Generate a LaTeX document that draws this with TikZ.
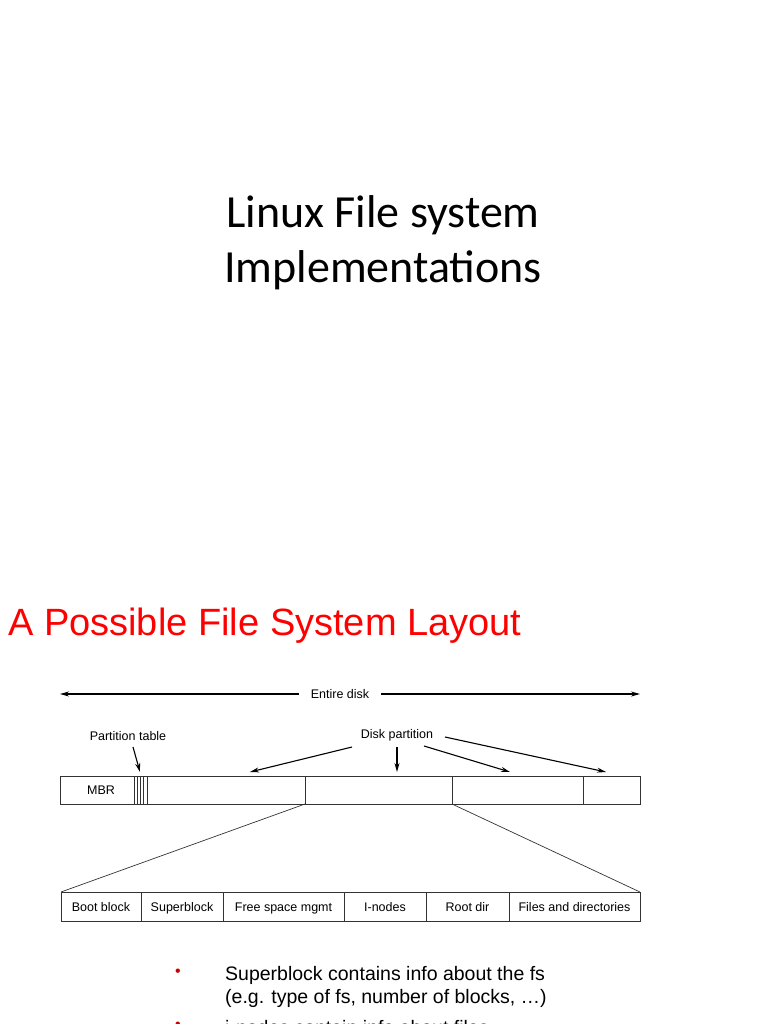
\documentclass[tikz,border=0pt]{standalone}
\usepackage{fontspec}
\setmainfont{Liberation Sans}
\newfontfamily\calib{Carlito}
\usetikzlibrary{arrows.meta}
\begin{document}
\begin{tikzpicture}[x=1pt,y=-1pt,
  lbl/.style={font=\fontsize{12.5}{14}\selectfont},
  blk/.style={font=\fontsize{12.5}{14}\selectfont,anchor=base},
  arr/.style={-{Stealth[length=9pt,width=5pt]},line width=1.1pt},
  thin/.style={line width=0.7pt,draw=black!80},
  btxt/.style={anchor=west,inner sep=0pt,font=\fontsize{19.5}{22}\selectfont}]
\useasboundingbox (0,0) rectangle (768,1024);
\clip (0,0) rectangle (768,1024);
\node (t1) at (383,215) {\calib\fontsize{46}{50}\selectfont Linux File system};
\node (t2) at (383,270) {\calib\fontsize{46}{50}\selectfont Implementations};
\node[anchor=west,text=red,inner sep=0pt] (h) at (8,626) {\fontsize{38}{42}\selectfont A Possible File System Layout};
% entire disk
\node[lbl,fill=white,inner xsep=12pt] (ed) at (340,694) {Entire disk};
\coordinate (edl) at (60,694); \coordinate (edr) at (640,694);
\draw[arr] (ed.west) -- (edl);
\draw[arr] (ed.east) -- (edr);
% top bar
\draw[thin] (60,776) rectangle (640,804);
\node[lbl] (mbr) at (101,790) {MBR};
\foreach \x in {134,137,140,143,147} \draw[thin] (\x,776) -- (\x,804);
\foreach \x in {305,452,583} \draw[thin] (\x,776) -- (\x,804);
\node[lbl] (pt) at (128,736) {Partition table};
\coordinate (pta) at (140,772);
\draw[arr] (133,747) -- (pta);
\node[lbl] (dp) at (397,735) {Disk partition};
\coordinate (a1) at (250,772); \coordinate (a2) at (397,772);
\coordinate (a3) at (510,772); \coordinate (a4) at (606,772);
\draw[arr] (352,747) -- (a1);
\draw[arr] (397,747) -- (a2);
\draw[arr] (424,746) -- (a3);
\draw[arr] (445,737) -- (a4);
% bottom bar
\draw[thin] (305,804) -- (61,892);
\draw[thin] (452,804) -- (640,892);
\draw[thin] (61,892) rectangle (640,921);
\foreach \x in {141,223,344,426,509} \draw[thin] (\x,892) -- (\x,921);
\foreach \a/\b/\t in {61/141/Boot block,141/223/Superblock,223/344/Free space mgmt,344/426/I-nodes,426/509/Root dir,509/640/Files and directories}
  \node[blk] at ({(\a+\b)/2},911) {\t};
% bullets
\node[text=red!80!black,font=\fontsize{16}{18}\selectfont] (b1) at (178,973) {•};
\node[btxt] (s1) at (225,975) {Superblock contains info about the fs};
\node[btxt] (s2) at (225,998) {(e.g. type of fs, number of blocks, \dots)};
\node[text=red!80!black,font=\fontsize{16}{18}\selectfont] (b2) at (178,1026) {•};
\node[btxt] (s3) at (225,1028) {i-nodes contain info about files};
\end{tikzpicture}
\end{document}
